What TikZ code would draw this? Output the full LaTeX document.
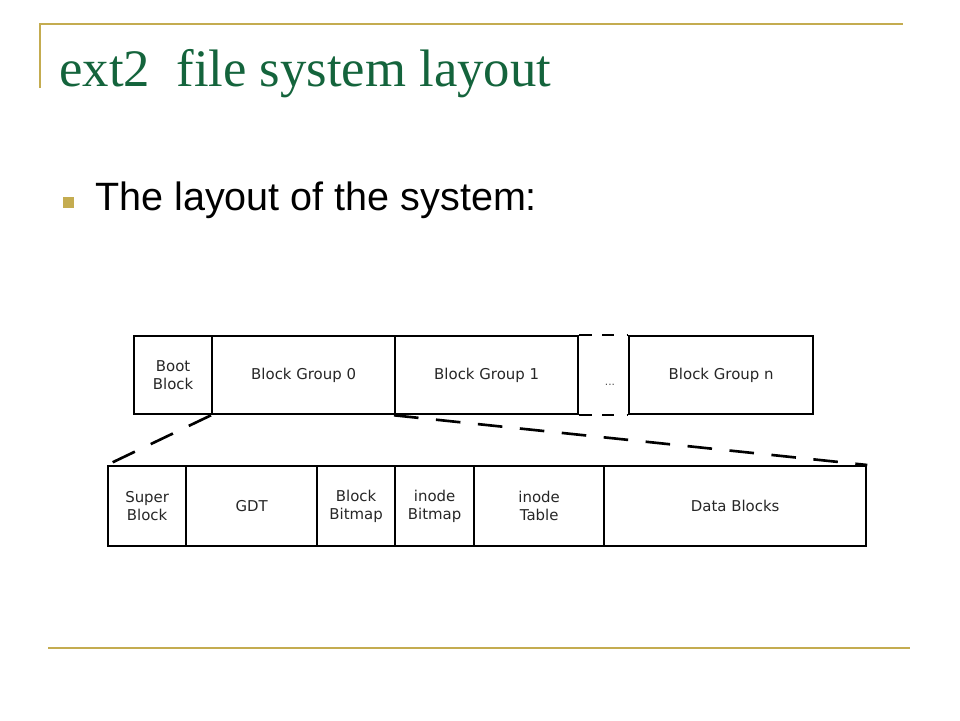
\documentclass[tikz,border=0pt]{standalone}
\usepackage{fontspec}
\setmainfont{Liberation Serif}
\newfontfamily\arialfont{Liberation Sans}
\newfontfamily\boxfont{DejaVu Sans}
\usetikzlibrary{positioning}
\definecolor{goldMW}{RGB}{196,172,80}
\definecolor{titleMW}{RGB}{20,100,60}
\tikzset{
  blk/.style={draw, line width=1.3pt, inner sep=0pt, anchor=north west, align=center,
    font=\boxfont\fontsize{8.5}{10.5}\selectfont, text=black!85},
}
\begin{document}
\begin{tikzpicture}[x=0.02cm, y=-0.02cm]
  \useasboundingbox (0,0) rectangle (960,720);
  % === Slide frame ===
  \draw[goldMW, line width=1.2pt] (40,88) -- (40,24) -- (903,24);
  \draw[goldMW, line width=1.2pt] (48,648) -- (910,648);
  \node[anchor=base west, inner sep=0pt, text=titleMW, font=\fontsize{30}{34}\selectfont] (title) at (59,86) {ext2\ \ file system layout};
  \fill[goldMW] (63,197) rectangle (74,208);
  \node[anchor=west, inner sep=0pt, font=\arialfont\fontsize{22.5}{26}\selectfont] (bullet) at (95,200) {The layout of the system:};

  % === Upper row ===
  \node[blk, minimum width=78*0.02cm, minimum height=78*0.02cm] (boot) at (133,335) {Boot\\Block};
  \node[blk, minimum width=183*0.02cm, minimum height=78*0.02cm] (bg0) at (211,335) {Block Group 0};
  \node[blk, minimum width=183*0.02cm, minimum height=78*0.02cm] (bg1) at (394,335) {Block Group 1};
  \node[blk, minimum width=184*0.02cm, minimum height=78*0.02cm] (bgn) at (628,335) {Block Group n};
  \draw[line width=1.3pt, dash pattern=on 7pt off 6pt on 7pt off 7pt] (bg1.north east) -- (bgn.north west);
  \draw[line width=1.3pt, dash pattern=on 7pt off 6pt on 7pt off 7pt] (bg1.south east) -- (bgn.south west);
  \node[font=\boxfont\fontsize{6}{7}\selectfont, text=black!70] (dots) at (610,385) {...};

  % === Lower row ===
  \foreach \name/\x/\w/\txt in {sb/107/78/{Super\\Block}, gdt/185/131/GDT, bb/316/78/{Block\\Bitmap},
      ib/394/79/{inode\\Bitmap}, it/473/130/{inode\\Table}, db/603/262/{Data Blocks}}
    {\node[blk, minimum width=\w*0.02cm, minimum height=80*0.02cm] (\name) at (\x,465) {\txt};}

  % === Zoom lines ===
  \draw[line width=1.5pt, dash pattern=on 14pt off 10pt] (bg0.south west) -- (sb.north west);
  \draw[line width=1.5pt, dash pattern=on 14pt off 10pt] (bg1.south west) -- (db.north east);
\end{tikzpicture}
\end{document}
